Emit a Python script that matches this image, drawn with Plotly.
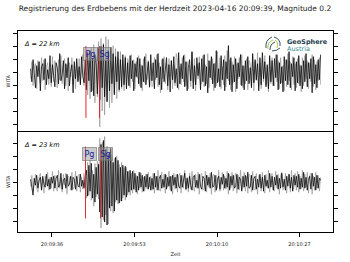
import numpy as np
import pandas as pd
import plotly.graph_objects as go
from plotly.subplots import make_subplots

# trace start and sample step (s)
start_time = "2023-04-16 20:09:31.6"
sample_step = 0.25

# station WITA, top panel (Delta = 22 km), counts
top_black = [4, -9, 13, 2, -15, 7, -4, 11, -18, 6, 9, -7, 14, -12, 3, -6, 17, -10, 8, -3,
             -14, 10, 5, -11, 19, -8, -2, 12, -16, 9, -5, 15, -13, 1, 8, -20, 11, -6, 14, -9,
             6, -12, 16, -4, -10, 13,
             -17, 20, -8, 22, -19, 14, -23, 18, 9, -21, 24,
             -27, 26, -15, 28, -24, 12, -29, 22, -18, 25, -11, 19, -22, 16, -9, 21, -17, 13, -14, 18, -12, 15, -16, 10,
             -13, 17, -6, 12, -18, 9, -4, 15, -11, 14, -15, 7, -9, 16, -12, 3, 11, -14, 18, -8,
             10, -16, 13, -5, 19, -12, 6, -17, 14, -9, 2, 15, -13, 8, -19, 12, -7, 16, -10, 4,
             -15, 20, -11, 9, -6, 17, -14, 11, -18, 5, 13, -8, 21, -16, 7, -12, 15, -3, 10, -17,
             14, -9, 18, -13, 6, -20, 12, -5, 16, -11, 9, -15, 22, -10, 4, -14, 17, -7, 13, -18,
             11, -6, 27, -12, 15, -19, 8, -9, 14, -16, 10, -4, 18, -13, 7, -17, 12, -8, 16, -11,
             5, -15, 19, -10, 13, -7, 9, -18, 15, -12, 20, -6, 11, -14, 8, -16, 17, -9, 12, -13,
             14, -5, 18, -17, 10, -11, 6, -19, 16, -8, 13, -12, 21, -15, 9, -4, 15, -18, 11, -10,
             17, -13, 7, -16, 12, -9, 19, -14, 10, -6, 14, -20, 16, -11, 8, -15, 13, -7, 18]
top_gray = [-6, 11, -13, 5, 9, -16, 12, -3, -10, 15, -8, 13, -17, 6, 10, -12, 4, -14, 16, -9,
            12, -5, -15, 13, -7, 17, -11, 3, 14, -13, 8, -18, 10, -4, 15, -12, 7, -16, 11, -8,
            14, -10, 5, 18, -13, 9,
            20, -22, 12, -26, 25, -18, 28, -30, 16, -24, 31,
            -54, 34, -38, 29, -42, 36, -28, 33, -35, 22, -30, 27, -20, 24, -26, 15, -19, 21, -16, 13, -18, 17, -12, 14,
            10, -15, 18, -9, 13, -16, 11, -5, 17, -13, 8, -18, 14, -10, 19, -7, 12, -15, 9, -14,
            -12, 15, -7, 18, -14, 10, -20, 13, -6, 16, -11, 9, -17, 14, -4, 12, -16, 8, -13, 19,
            13, -17, 6, -12, 15, -9, 18, -13, 11, -16, 7, -14, 20, -10, 14, -18, 9, -6, 16, -12,
            -10, 17, -14, 8, -11, 19, -15, 12, -7, 14, -18, 10, -13, 21, -9, 15, -16, 6, -12, 17,
            -14, 22, -8, 13, -17, 11, -10, 16, -19, 9, -6, 15, -12, 18, -15, 7, -11, 14, -17, 12,
            9, -13, 16, -18, 11, -8, 20, -14, 10, -16, 13, -9, 17, -12, 6, -19, 14, -11, 15, -7,
            -13, 18, -9, 12, -16, 15, -10, 7, -18, 13, -14, 19, -8, 11, -17, 16, -12, 9, -15, 14,
            -11, 8, -19, 15, -13, 17, -6, 12, -16, 10, -9, 18, -14, 13, -17, 11, -8, 15, -12]

# bottom panel (Delta = 23 km)
bot_black = [3, -5, -13, 4, -3, 7, -6, 2, 5, -8, 6, -2, -5, 8, -4, 3, -7, 5, -1, 6,
             -6, 4, 7, -5, -3, 9, -7, 2, 4, -6, 8, -4, -2, 6, -8, 5, 3, -7, 6, -3,
             -5, 8, -4, 2, -6, 5,
             12, -14, 17, -9, 19, -16, 8, -20, 15, -12, 18,
             -30, 38, -35, 42, -40, 33, -43, 28, -26, 34, -24, 20, -29, 25, -18, 22, -21, 15, -19, 17, -13, 16, -15, 11,
             -10, 12, -8, 11, -7, 9, -10, 6, -8, 10, -5, 7, -9, 6, -5, 8, -7, 5, -8, 4,
             -7, 9, -5, 6, -8, 4, 7, -6, 3, -5, 8, -7, 5, -4, 6, -9, 7, -3, 5, -6,
             8, -4, -6, 7, -5, 3, 9, -7, 4, -6, 6, -3, -8, 5, 7, -5, 2, -6, 8, -4,
             -7, 6, 4, -9, 7, -3, 5, -6, 10, -5, -4, 7, -8, 3, 6, -7, 5, -2, 8, -6,
             4, -5, 9, -8, 6, -3, 7, -6, -4, 8, -7, 5, 3, -9, 6, -5, 7, -4, 10, -6,
             -5, 7, -8, 4, 6, -7, 3, -5, 8, -6, 5, -9, 7, -4, 2, -6, 9, -5, 6, -8,
             5, -3, 7, -7, 4, -6, 9, -5, 3, -8, 6, -4, 8, -6, 5, -9, 7, -3, 6, -5,
             8, -7, 4, -5, 10, -6, 5, -8, 3, 6, -7, 9, -4, 5, -8, 7, -6, 4, 2]
bot_gray = [-4, 7, -9, 3, 8, -6, -10, 5, 9, -7, 4, -11, 6, -3, 10, -8, 5, -6, 11, -9,
            7, -5, -9, 12, -6, 4, -10, 8, -3, 9, -12, 6, 5, -8, 10, -7, -4, 11, -9, 6,
            8, -10, 5, -7, 9, -6,
            -16, 20, -13, 22, -18, 12, -24, 19, -15, 21, -17,
            44, -46, 40, -38, 46, -33, 36, -42, 30, -29, 27, -31, 24, -20, 26, -22, 18, -19, 20, -16, 14, -18, 15, -13,
            11, -13, 9, -11, 12, -8, 7, -12, 10, -6, 9, -10, 5, -9, 8, -7, 10, -5, 6, -8,
            9, -11, 6, -8, 12, -7, -9, 10, -6, 8, -11, 7, -5, 11, -8, 6, -12, 9, -7, 8,
            -10, 6, 9, -11, 7, -6, 12, -8, 5, -10, 9, -7, 11, -5, -9, 8, -6, 10, -12, 7,
            9, -8, -6, 11, -10, 7, -5, 9, -12, 6, 8, -10, 7, -6, 12, -9, -5, 10, -8, 6,
            -7, 11, -12, 8, -6, 10, -9, 5, 9, -11, 7, -8, 12, -7, -5, 10, -9, 6, -11, 8,
            7, -10, 11, -6, -8, 9, -12, 7, 6, -9, 10, -7, -11, 8, -6, 12, -10, 5, 9, -7,
            -9, 11, -6, 8, -12, 7, 10, -8, -5, 9, -11, 6, 8, -10, 12, -7, -6, 9, -8, 11,
            -10, 6, -7, 12, -9, 8, -5, 10, -11, 7, 9, -12, 6, -8, 10, -6, 7, -9, 5]

phases = ["Pg", "Sg"]
picks_top = ["2023-04-16 20:09:43.0", "2023-04-16 20:09:45.8"]
picks_bot = ["2023-04-16 20:09:42.9", "2023-04-16 20:09:46.0"]
distances = ["22", "23"]

tick_times = ["2023-04-16 20:09:36", "2023-04-16 20:09:53",
              "2023-04-16 20:10:10", "2023-04-16 20:10:27"]
tick_text = ["20:09:36", "20:09:53", "20:10:10", "20:10:27"]

FONT = "DejaVu Sans"


def times_for(values):
    t0 = pd.Timestamp(start_time)
    return t0 + pd.to_timedelta(np.arange(len(values)) * sample_step, unit="s")


fig = make_subplots(rows=2, cols=1, shared_xaxes=True, vertical_spacing=0)

for row, (gray, black) in enumerate([(top_gray, top_black), (bot_gray, bot_black)], start=1):
    fig.add_trace(go.Scatter(x=times_for(gray), y=gray, mode="lines",
                             line=dict(color="#8a8a8a", width=0.6), hoverinfo="skip"),
                  row=row, col=1)
    fig.add_trace(go.Scatter(x=times_for(black), y=black, mode="lines",
                             line=dict(color="black", width=0.75), hoverinfo="skip"),
                  row=row, col=1)

# picks and labels
for row, picks in [(1, picks_top), (2, picks_bot)]:
    xr = "x" if row == 1 else "x2"
    yr = "y domain" if row == 1 else "y2 domain"
    for name, t in zip(phases, picks):
        fig.add_shape(type="line", xref=xr, yref=yr, x0=t, x1=t, y0=0.135, y1=0.85,
                      line=dict(color="#e8262a", width=1))
        fig.add_annotation(x=t, xref=xr, y=0.845, yref=yr, text=name, showarrow=False,
                           xanchor="left", yanchor="top", xshift=-3,
                           font=dict(family=FONT, size=8, color="#1c1c9a"),
                           bgcolor="rgba(150,150,150,0.5)", bordercolor="rgba(110,110,110,0.6)",
                           borderwidth=1, borderpad=1.5)
    fig.add_annotation(x=0.012, xref=xr + " domain", y=0.87, yref=yr, showarrow=False,
                       text="<i>Δ = %s km</i>" % distances[row - 1], xanchor="left",
                       yanchor="middle", font=dict(family=FONT, size=6.5, color="black"))


# GeoSphere Austria logo (text + a few swirl strokes)
def px(x, y):
    return (x - 18) / 315.0, (232 - y) / 201.0


fig.add_annotation(x=px(285, 0)[0], y=px(0, 42)[1], xref="paper", yref="paper", text="<b>GeoSphere</b>",
                   showarrow=False, xanchor="left", yanchor="middle",
                   font=dict(family=FONT, size=6.5, color="#1e3b4d"))
fig.add_annotation(x=px(285, 0)[0], y=px(0, 49.5)[1], xref="paper", yref="paper", text="Austria",
                   showarrow=False, xanchor="left", yanchor="middle",
                   font=dict(family=FONT, size=6.5, color="#3a8c8e"))
strokes = [
    ((266, 48), (265, 40), (272, 37), "#1e3b4d"),
    ((268, 49), (267, 42), (273, 40), "#9ec43a"),
    ((270, 50), (270, 44), (275, 42), "#1e3b4d"),
    ((274, 37), (281, 39), (280, 46), "#1e3b4d"),
    ((275, 40), (279, 42), (277, 48), "#9ec43a"),
    ((272, 51), (277, 51), (280, 48), "#1e3b4d"),
]
for p0, pc, p1, col in strokes:
    a, b, c = px(*p0), px(*pc), px(*p1)
    fig.add_shape(type="path", xref="paper", yref="paper",
                  path="M %f,%f Q %f,%f %f,%f" % (a[0], a[1], b[0], b[1], c[0], c[1]),
                  line=dict(color=col, width=0.9))

axis_line = dict(showline=True, linecolor="black", linewidth=1,
                 showgrid=False, zeroline=False, automargin=False)

fig.update_xaxes(**axis_line, type="date",
                 range=["2023-04-16 20:09:29", "2023-04-16 20:10:33.9"])
# top panel: only its top edge, the shared border comes from the lower panel
fig.update_xaxes(ticks="", showticklabels=False, side="top", mirror=False, row=1, col=1)
fig.update_xaxes(mirror=True, ticks="outside", ticklen=4, tickwidth=1, tickcolor="black",
                 tickvals=tick_times, ticktext=tick_text, ticklabelstandoff=3,
                 tickfont=dict(family=FONT, size=5, color="#222"),
                 title=dict(text="Zeit", font=dict(family=FONT, size=5, color="#222"), standoff=6),
                 row=2, col=1)

fig.update_yaxes(**axis_line)
fig.update_yaxes(mirror="ticks", ticks="outside", ticklen=4, tickwidth=1, tickcolor="black",
                 showticklabels=False, tick0=0, dtick=13)
fig.update_yaxes(range=[-58.5, 41.5], row=1, col=1,
                 title=dict(text="WITA", font=dict(family=FONT, size=5, color="#222"), standoff=2))
fig.update_yaxes(range=[-50, 51], row=2, col=1,
                 title=dict(text="WITA", font=dict(family=FONT, size=5, color="#222"), standoff=2))

fig.update_layout(
    width=350, height=262,
    margin=dict(l=18, r=17, t=31, b=30),
    paper_bgcolor="white", plot_bgcolor="white",
    showlegend=False,
    title=dict(text="Registrierung des Erdbebens mit der Herdzeit 2023-04-16 20:09:39, Magnitude 0.2",
               x=0.5, xanchor="center", y=0.969, yanchor="middle",
               font=dict(family=FONT, size=7.5, color="#222")),
)

# the page body has a default 8px margin; drop it so the figure fills the window
fig.write_html("out.html", config={"displayModeBar": False},
               post_script="document.body.style.margin = '0px';")
